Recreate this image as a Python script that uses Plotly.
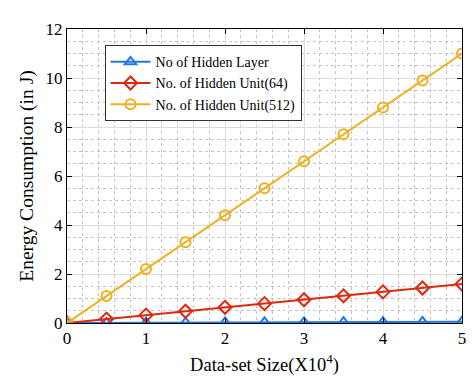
import plotly.graph_objects as go

x_vals = [0, 0.5, 1, 1.5, 2, 2.5, 3, 3.5, 4, 4.5, 5]
hidden_layer = [0, 0.005, 0.01, 0.015, 0.02, 0.025, 0.03, 0.035, 0.04, 0.045, 0.05]
hidden_unit_64 = [0, 0.16, 0.32, 0.48, 0.64, 0.79, 0.95, 1.11, 1.27, 1.43, 1.59]
hidden_unit_512 = [0, 1.1, 2.2, 3.3, 4.4, 5.5, 6.6, 7.7, 8.8, 9.9, 11.0]

names = ["No of Hidden Layer", "No. of Hidden Unit(64)", "No. of Hidden Unit(512)"]
colors = ["#1f78e6", "#e0280f", "#EDB120"]
symbols = ["triangle-up-open", "diamond-open", "circle-open"]
series = [hidden_layer, hidden_unit_64, hidden_unit_512]

fig = go.Figure()
for n, c, s, y in zip(names, colors, symbols, series):
    fig.add_trace(go.Scatter(
        x=x_vals, y=y, name=n, mode="lines+markers",
        line=dict(color=c, width=2),
        marker=dict(symbol=s, size=10, color=c, line=dict(width=2, color=c)),
    ))

font_family = "Liberation Serif, Times New Roman, serif"
fig.update_layout(
    width=474, height=386,
    margin=dict(l=67, r=12, t=29, b=63, autoexpand=False),
    paper_bgcolor="white", plot_bgcolor="white",
    font=dict(family=font_family, color="black", size=16),
    showlegend=True,
    legend=dict(
        x=0.095, y=0.945, xanchor="left", yanchor="top",
        bgcolor="white", bordercolor="#333333", borderwidth=1,
        font=dict(family=font_family, size=14, color="black"),
        tracegroupgap=0, itemwidth=40,
    ),
)
fig.update_xaxes(
    range=[0, 5], dtick=1, tick0=0,
    showline=True, linecolor="black", linewidth=1, mirror="ticks",
    ticks="inside", ticklen=5, tickcolor="black",
    showgrid=True, gridcolor="#dddddd", gridwidth=1,
    zeroline=False,
    minor=dict(dtick=0.2, showgrid=True, griddash="dot", gridcolor="#c4c4c4", ticks=""),
    title=dict(text="Data-set Size(X10<sup>4</sup>)", font=dict(size=18.5), standoff=10),
    tickfont=dict(size=17),
    automargin=False,
)
fig.update_yaxes(
    range=[0, 12], dtick=2, tick0=0,
    showline=True, linecolor="black", linewidth=1, mirror="ticks",
    ticks="inside", ticklen=5, tickcolor="black",
    showgrid=True, gridcolor="#dddddd", gridwidth=1,
    zeroline=False,
    minor=dict(dtick=0.5, showgrid=True, griddash="dot", gridcolor="#c4c4c4", ticks=""),
    title=dict(text="Energy Consumption (in J)", font=dict(size=19.5), standoff=6),
    tickfont=dict(size=17),
    automargin=False,
)
fig.write_html("out.html", config={"displayModeBar": False})

with open("out.html", "r", encoding="utf-8") as f:
    html = f.read()
html = html.replace("<body>", '<body style="margin:0;padding:0;">', 1)
with open("out.html", "w", encoding="utf-8") as f:
    f.write(html)
